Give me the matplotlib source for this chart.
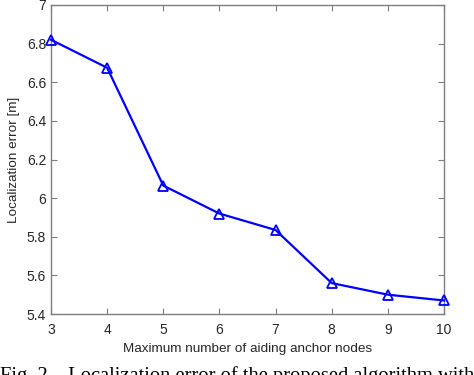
import matplotlib
matplotlib.use("Agg")
import matplotlib.pyplot as plt

# values
anchor_nodes = [3, 4, 5, 6, 7, 8, 9, 10]
loc_error = [6.82, 6.675, 6.065, 5.92, 5.835, 5.56, 5.50, 5.47]
x_ticks = [3, 4, 5, 6, 7, 8, 9, 10]
y_ticks = [5.4, 5.6, 5.8, 6.0, 6.2, 6.4, 6.6, 6.8, 7.0]
y_labels = ["5.4", "5.6", "5.8", "6", "6.2", "6.4", "6.6", "6.8", "7"]

plt.rcParams['font.family'] = ['Liberation Sans', 'DejaVu Sans']

fig = plt.figure(figsize=(4.74, 3.75), dpi=100)
ax = fig.add_axes([51 / 474, 1 - 314 / 375, 393 / 474, 309 / 375])

ax.plot(anchor_nodes, loc_error, color='#0000ff', linewidth=1.6,
        marker='^', markersize=7, markerfacecolor='none',
        markeredgecolor='#0000ff', markeredgewidth=1.3, clip_on=False, zorder=3)

ax.set_xlim(3, 10)
ax.set_ylim(5.4, 7)
ax.set_xticks(x_ticks)
ax.set_yticks(y_ticks)
ax.set_yticklabels(y_labels)
ax.tick_params(direction='in', top=True, right=True, length=4, width=0.8,
               color='#7f7f7f', labelsize=10, labelcolor='#262626')
ax.tick_params(axis='x', pad=6.5)
ax.tick_params(axis='y', pad=3.5)
for s in ax.spines.values():
    s.set_color('#7f7f7f')
    s.set_linewidth(1.0)

ax.set_xlabel("Maximum number of aiding anchor nodes", fontsize=9.7,
              color='#262626', labelpad=4)
ax.set_ylabel("Localization error [m]", fontsize=9.7, color='#262626', labelpad=5)

# caption, cut off at the bottom edge as in the source
fig.text(0.0, -0.016, "Fig. 2.   Localization error of the proposed algorithm with",
         family=['Liberation Serif', 'DejaVu Serif'], fontsize=14.8, color='#000000',
         ha='left', va='baseline')

fig.savefig("out.png", dpi=100)
